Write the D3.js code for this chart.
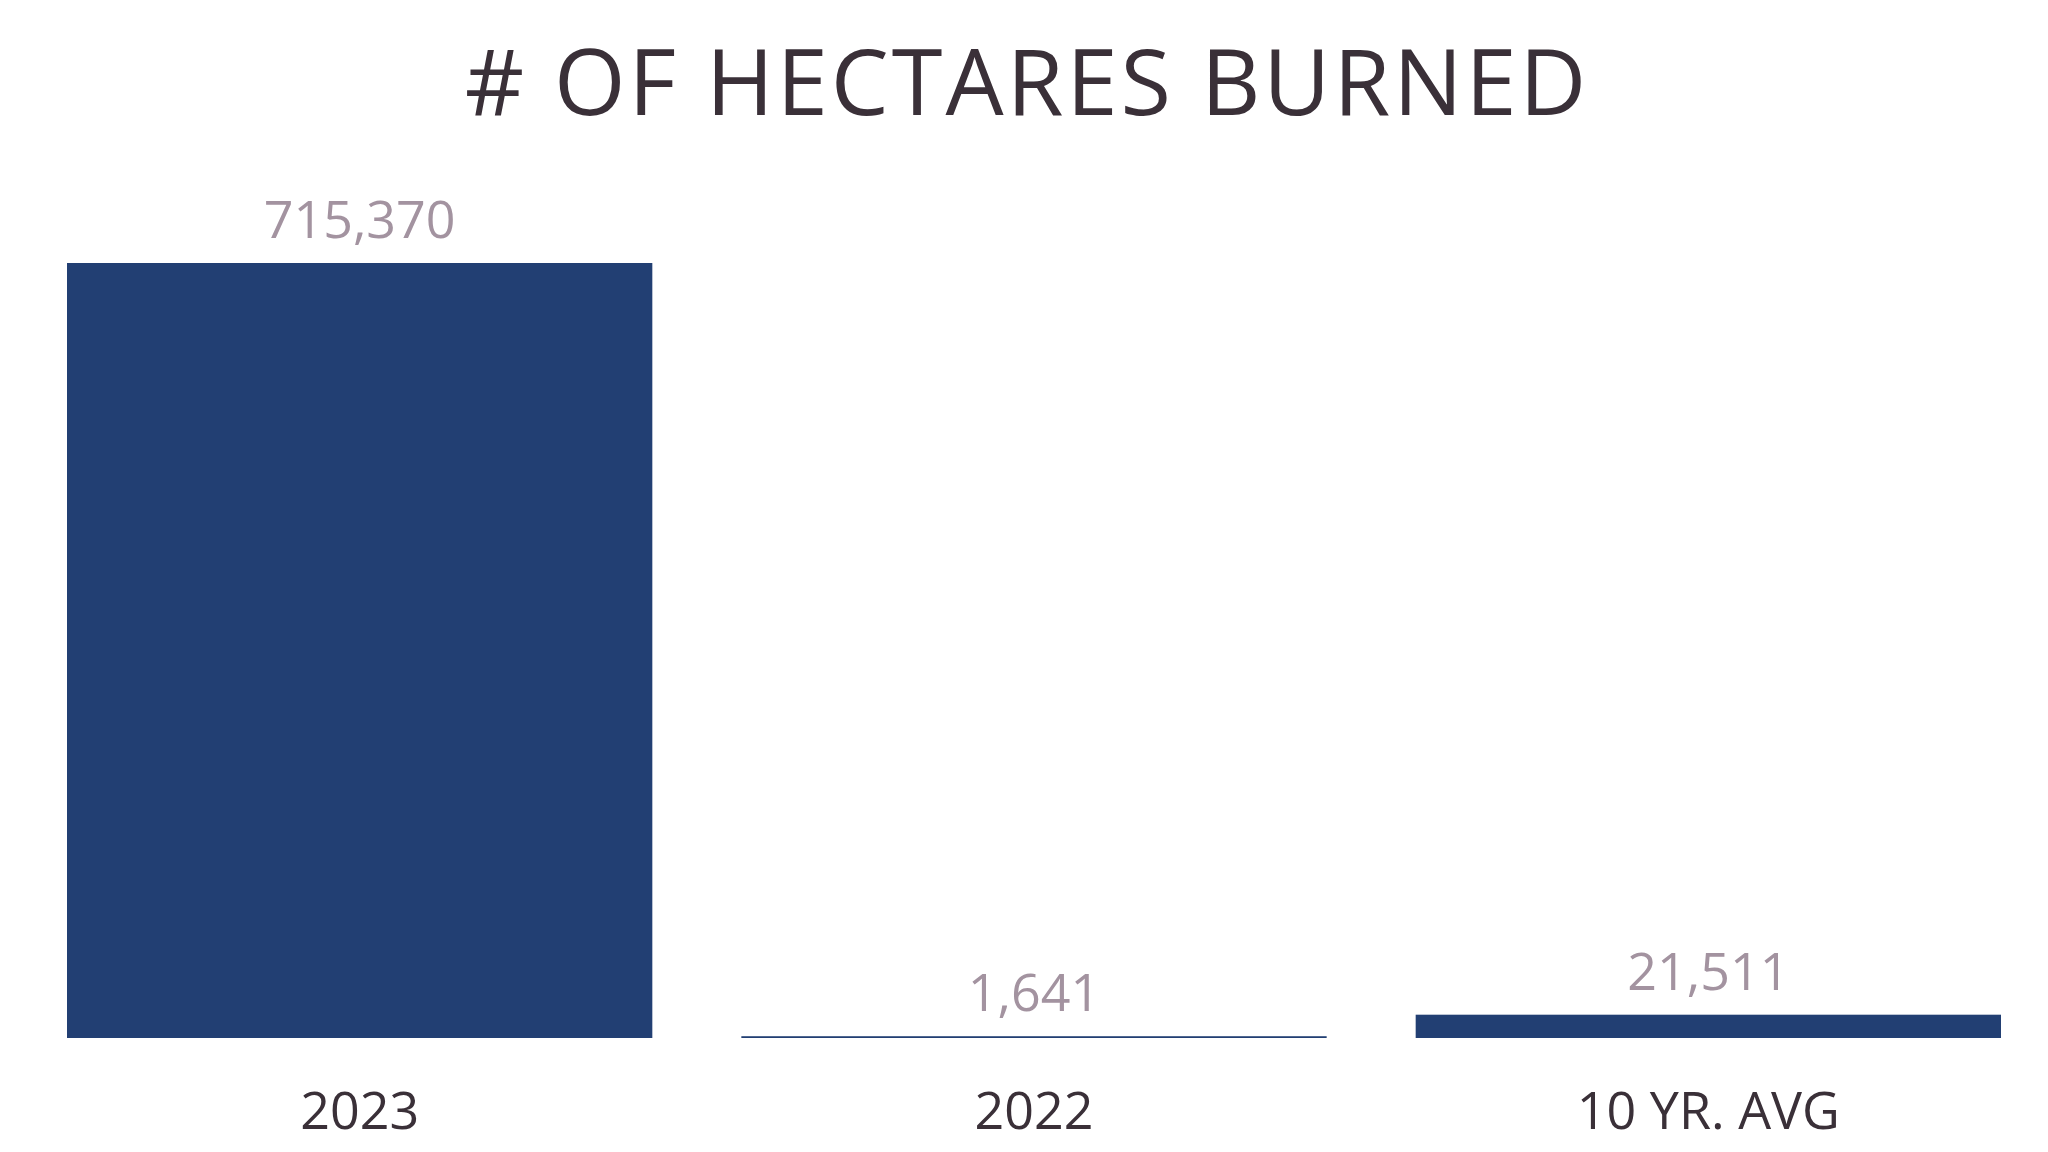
<!DOCTYPE html>
<html><head><meta charset="utf-8">
<script src="https://cdn.jsdelivr.net/npm/d3@7"></script>
<style>body{margin:0;background:#fff}</style></head>
<body><svg id="c" width="2048" height="1152"></svg>
<script>
const categories = ["2023", "2022", "10 YR. AVG"];
const values = [715370, 1641, 21511];
const title = "# OF HECTARES BURNED";

const svg = d3.select("#c");
const x = d3.scaleBand().domain(categories).range([67, 2001]).paddingInner(0.132).paddingOuter(0);
const y = d3.scaleLinear().domain([0, 715370]).range([1038, 263]);
const fmt = d3.format(",");
const data = categories.map((c, i) => ({c, v: values[i]}));

svg.append("text").attr("x", 1027).attr("y", 115).attr("text-anchor", "middle")
  .attr("font-family", "Open Sans").attr("font-size", 92).attr("fill", "#3a3038")
  .attr("letter-spacing", 3).text(title);

svg.selectAll("rect.b").data(data).join("rect")
  .attr("x", d => x(d.c)).attr("width", x.bandwidth())
  .attr("y", d => Math.min(y(d.v), 1036.5)).attr("height", d => Math.max(1038 - y(d.v), 1.5))
  .attr("fill", "#223f73");

svg.selectAll("text.v").data(data).join("text")
  .attr("x", d => x(d.c) + x.bandwidth() / 2).attr("y", d => y(d.v) - 25)
  .attr("text-anchor", "middle").attr("font-family", "Open Sans").attr("font-size", 52)
  .attr("fill", "#a393a0").text(d => fmt(d.v));

svg.append("g").attr("transform", "translate(0,1038)")
  .call(d3.axisBottom(x).tickSize(0).tickPadding(60))
  .call(g => g.select(".domain").remove())
  .selectAll("text").attr("font-family", "Open Sans").attr("font-size", 52)
  .attr("fill", "#3a3038").attr("dy", "0.6em");
</script></body></html>
